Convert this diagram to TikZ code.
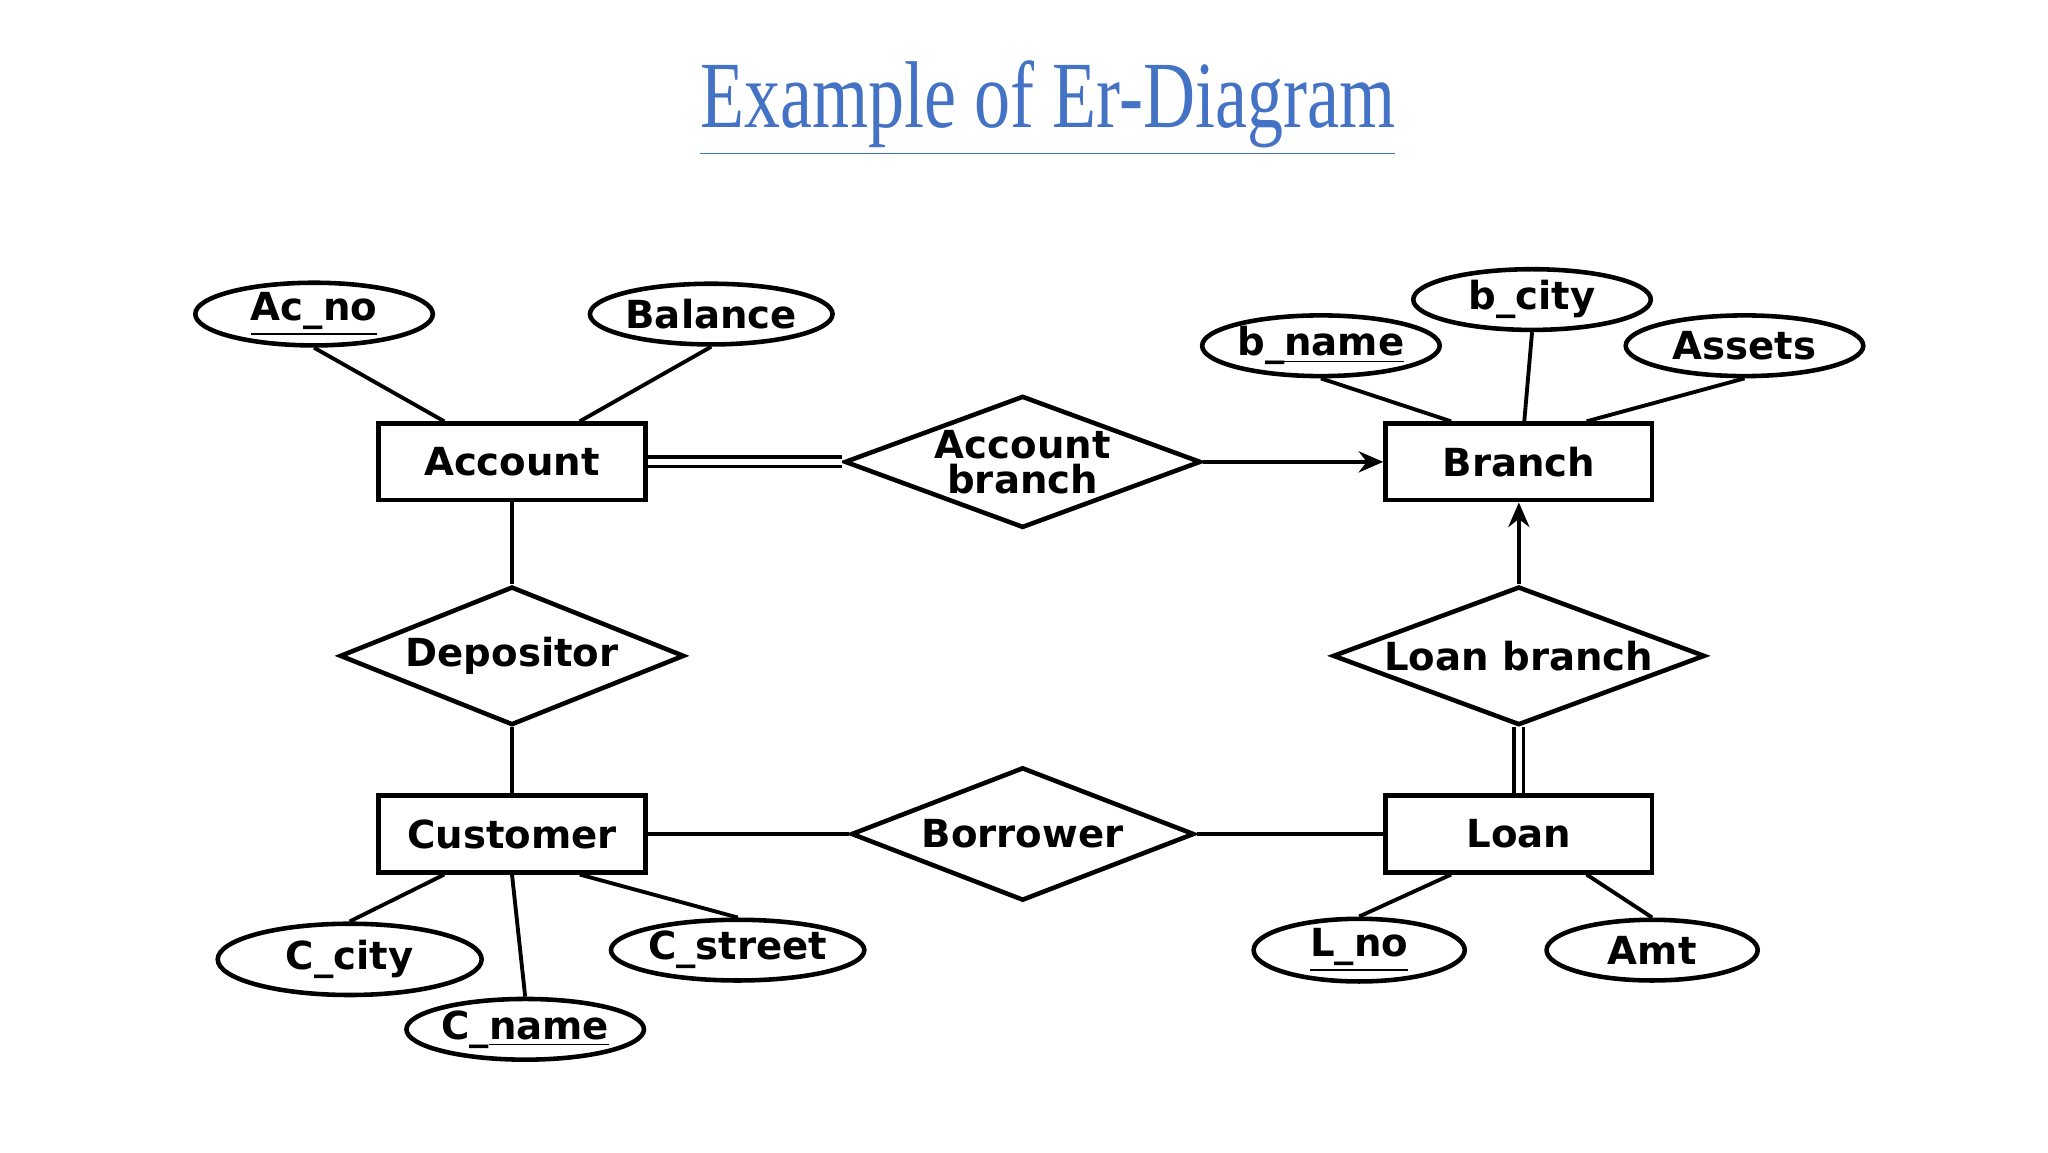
\documentclass[tikz,border=0pt]{standalone}
\usepackage{fontspec}
\setmainfont{DejaVu Sans}
\newfontfamily\titlefont{Liberation Serif}
\usetikzlibrary{shapes.geometric,calc,arrows.meta}
\definecolor{titleblue}{HTML}{4472C4}
\begin{document}
\def\u{0.013196cm}
\begin{tikzpicture}[x=0.013196cm,y=-0.013196cm,line width=1.3pt,
  lbl/.style={font=\bfseries\fontsize{11}{12}\selectfont,align=center,inner sep=0pt},
  ent/.style={draw,rectangle,minimum width=202*\u,minimum height=58*\u,inner sep=0pt,lbl},
  rel/.style={draw,diamond,inner sep=0pt},
  att/.style={draw,ellipse,minimum width=180*\u,minimum height=46*\u,inner sep=0pt,lbl},
  lnk/.style={line width=1.1pt}]
\useasboundingbox (0,0) rectangle (1552,873);
\node[text=titleblue,font=\titlefont\fontsize{27}{30}\selectfont,inner sep=0pt] (title) at (794,82) {\underline{\scalebox{0.76}[1]{Example of Er-Diagram}}};
% entities
\node[ent] (acc) at (388,350) {Account};
\node[ent] (br) at (1151,350) {Branch};
\node[ent] (cus) at (388,632) {Customer};
\node[ent] (loan) at (1151,632) {Loan};
% relationships
\node[rel,minimum width=270*\u,minimum height=100*\u] (ab) at (775,350) {};
\node[lbl] (abt) at (ab) {Account\\[-2pt]branch};
\node[rel,minimum width=261*\u,minimum height=105*\u] (dep) at (388,497) {};
\node[lbl] (dept) at (dep) {Depositor};
\node[rel,minimum width=282*\u,minimum height=105*\u] (lb) at (1151,497) {};
\node[lbl] (lbt) at (lb) {Loan branch};
\node[rel,minimum width=260*\u,minimum height=101*\u] (bor) at (775,632) {};
\node[lbl] (bort) at (bor) {Borrower};
% attributes
\node[att] (acno) at (238,238) {\underline{Ac\_no}};
\node[att] (bal) at (539,238) {Balance};
\node[att] (bname) at (1001,262) {b\_\underline{name}};
\node[att] (bcity) at (1161,227) {b\_city};
\node[att] (assets) at (1322,262) {Assets};
\node[att,minimum width=200*\u,minimum height=54*\u] (ccity) at (265,727) {C\_city};
\node[att] (cname) at (398,780) {C\_\underline{name}};
\node[att] (cstreet) at (559,720) {C\_street};
\node[att,minimum width=160*\u] (lno) at (1030,720) {\underline{L\_no}};
\node[att,minimum width=160*\u] (amt) at (1252,720) {Amt};
% attribute links
\draw[lnk] (acno.south) -- ($(acc.north west)!0.25!(acc.north east)$);
\draw[lnk] (bal.south) -- ($(acc.north west)!0.75!(acc.north east)$);
\draw[lnk] (bname.south) -- ($(br.north west)!0.25!(br.north east)$);
\draw[lnk] (bcity.south) -- ($(br.north west)!0.52!(br.north east)$);
\draw[lnk] (assets.south) -- ($(br.north west)!0.75!(br.north east)$);
\draw[lnk] ($(cus.south west)!0.25!(cus.south east)$) -- (ccity.north);
\draw[lnk] (cus.south) -- (cname.north);
\draw[lnk] ($(cus.south west)!0.75!(cus.south east)$) -- (cstreet.north);
\draw[lnk] ($(loan.south west)!0.25!(loan.south east)$) -- (lno.north);
\draw[lnk] ($(loan.south west)!0.75!(loan.south east)$) -- (amt.north);
% relationship links
\draw[lnk,double,double distance=4*\u] (acc.east) -- (ab.west);
\draw[lnk,-{Stealth[length=7pt,width=6pt]}] (ab.east) -- (br.west);
\draw[lnk] (acc.south) -- (dep.north);
\draw[lnk] (dep.south) -- (cus.north);
\draw[lnk,-{Stealth[length=7pt,width=6pt]}] (lb.north) -- (br.south);
\draw[lnk,double,double distance=4*\u] (loan.north) -- (lb.south);
\draw[lnk] (cus.east) -- (bor.west);
\draw[lnk] (bor.east) -- (loan.west);
\end{tikzpicture}
\end{document}
